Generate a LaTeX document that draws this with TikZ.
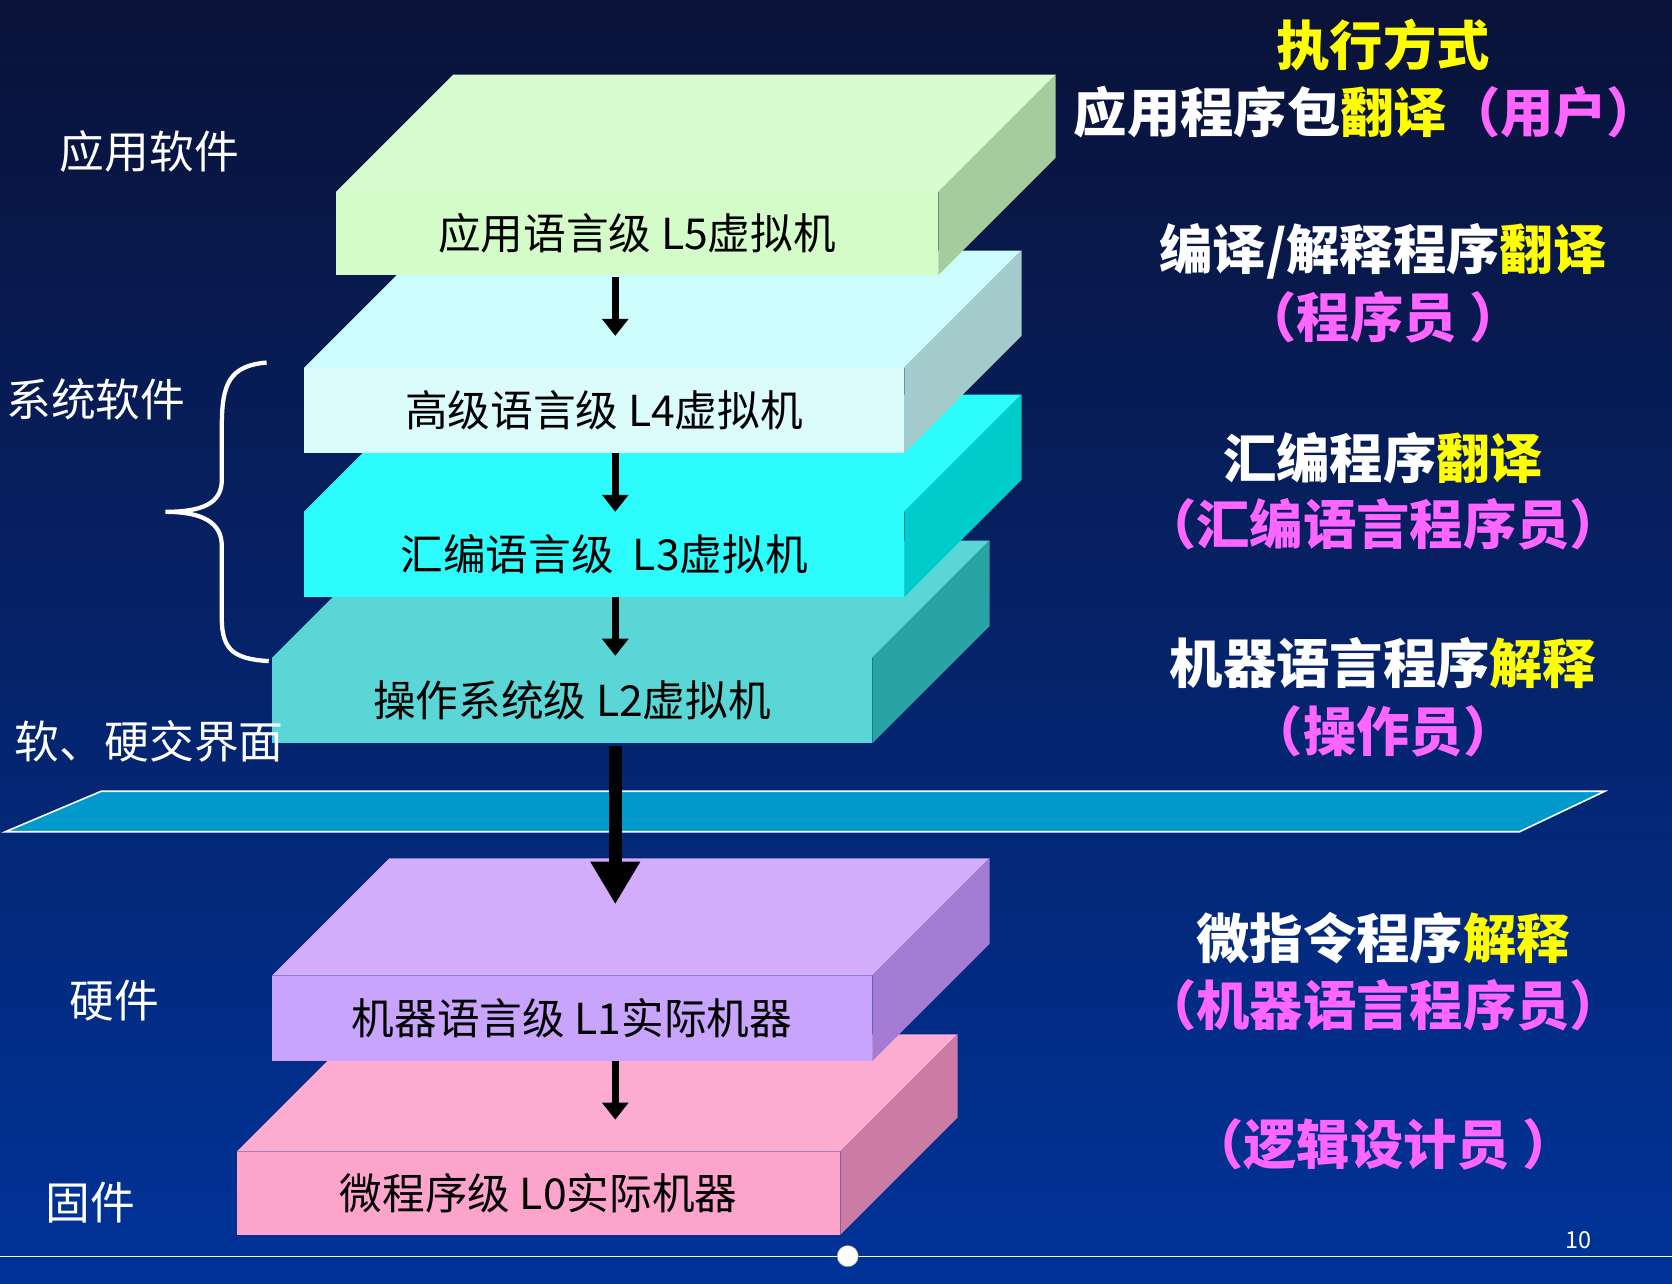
\documentclass[tikz,border=0pt]{standalone}
\usepackage{fontspec}
\setmainfont{Noto Sans CJK SC}
\usetikzlibrary{arrows.meta}
\definecolor{mag}{HTML}{FF66FF}
\definecolor{yel}{HTML}{FFFF00}
\definecolor{bgtop}{HTML}{0A1238}
\definecolor{bgbot}{HTML}{003399}
\definecolor{plane}{HTML}{0099CC}
\definecolor{l0f}{HTML}{FCA4CC}\definecolor{l0t}{HTML}{FCACD0}\definecolor{l0s}{HTML}{CC7CA4}
\definecolor{l1f}{HTML}{C8A4FC}\definecolor{l1t}{HTML}{D4ACFC}\definecolor{l1s}{HTML}{A47CD4}
\definecolor{l2f}{HTML}{5AD6D6}\definecolor{l2t}{HTML}{5AD6D6}\definecolor{l2s}{HTML}{28A4A4}
\definecolor{l3f}{HTML}{2CFCFC}\definecolor{l3t}{HTML}{2CFCFC}\definecolor{l3s}{HTML}{00CCCC}
\definecolor{l4f}{HTML}{DCFCFC}\definecolor{l4t}{HTML}{CCFCFC}\definecolor{l4s}{HTML}{A4CCCC}
\definecolor{l5f}{HTML}{D4FCC8}\definecolor{l5t}{HTML}{D8FCD0}\definecolor{l5s}{HTML}{A4CC9C}
\newcommand\myslab[9]{%
 \fill[#6] (#1,#2) -- ({#1+110},{#2-110}) -- ({#3+110},{#2-110}) -- (#3,#2) -- cycle;
 \fill[#7] (#3,#2) -- ({#3+110},{#2-110}) -- ({#3+110},{#4-110}) -- (#3,#4) -- cycle;
 \fill[#5] (#1,#2) rectangle (#3,#4);
 \node[slabtxt] (#8) at ({(#1+#3)/2},{(#2+#4)/2}) {#9};
}
\tikzset{
 slabtxt/.style={font=\fontsize{40}{46}\selectfont, text=black},
 lbl/.style={font=\fontsize{42}{48}\selectfont, text=white},
 rt/.style={font=\bfseries\fontsize{50}{58}\selectfont, text=white},
 arr/.style={line width=7pt, -{Triangle[length=16pt,width=24pt]}, black}
}
\begin{document}
\begin{tikzpicture}[x=1pt,y=-1pt]
\useasboundingbox (0,0) rectangle (1568,1204);
\shade[top color=bgtop, bottom color=bgbot] (0,0) rectangle (1568,1204);
\myslab{222}{1080}{788}{1158}{l0f}{l0t}{l0s}{l0}{微程序级 L0实际机器}
\myslab{255}{915}{818}{995}{l1f}{l1t}{l1s}{l1}{机器语言级 L1实际机器}
\draw[white, fill=plane, line width=1.5pt] (5,780) -- (95,742) -- (1505,742) -- (1425,780) -- cycle;
\myslab{255}{617}{818}{697}{l2f}{l2t}{l2s}{l2}{操作系统级 L2虚拟机}
\myslab{285}{480}{848}{560}{l3f}{l3t}{l3s}{l3}{汇编语言级 \ L3虚拟机}
\myslab{285}{345}{848}{425}{l4f}{l4t}{l4s}{l4}{高级语言级 L4虚拟机}
\myslab{315}{180}{880}{258}{l5f}{l5t}{l5s}{l5}{应用语言级 L5虚拟机}
\coordinate (a1) at (577,260); \coordinate (b1) at (577,315);
\coordinate (a2) at (577,425); \coordinate (b2) at (577,480);
\coordinate (a3) at (577,560); \coordinate (b3) at (577,615);
\coordinate (a4) at (577,700); \coordinate (b4) at (577,848);
\coordinate (a5) at (577,995); \coordinate (b5) at (577,1050);
\draw[arr] (a1) -- (b1); \draw[arr] (a2) -- (b2); \draw[arr] (a3) -- (b3);
\draw[line width=12pt, -{Triangle[length=40pt,width=44pt]}] (a4) -- (b4);
\draw[arr] (a5) -- (b5);
\node[lbl] (s1) at (140,142) {应用软件};
\node[lbl] (s2) at (90,375) {系统软件};
\node[lbl] (s3) at (140,695) {软、硬交界面};
\node[lbl] (s4) at (107,938) {硬件};
\node[lbl] (s5) at (85,1128) {固件};
\draw[white, line width=4pt] (250,340) .. controls (215,343) and (208,360) .. (208,400) -- (208,450) .. controls (208,472) and (190,480) .. (155,480) .. controls (190,480) and (208,490) .. (208,512) -- (208,580) .. controls (208,610) and (220,618) .. (252,620);
\node[rt, text=yel] (r0) at (1297,42) {执行方式};
\node[rt] (r1) at (1282,105) {应用程序包\textcolor{yel}{翻译}\textcolor{mag}{（用户）}};
\node[rt] (r2) at (1297,236) {编译/解释程序\textcolor{yel}{翻译}};
\node[rt, text=mag] (r3) at (1297,298) {（程序员 ）};
\node[rt] (r4) at (1297,430) {汇编程序\textcolor{yel}{翻译}};
\node[rt, text=mag] (r5) at (1297,492) {（汇编语言程序员）};
\node[rt] (r6) at (1297,622) {机器语言程序\textcolor{yel}{解释}};
\node[rt, text=mag] (r7) at (1297,686) {（操作员）};
\node[rt] (r8) at (1297,880) {微指令程序\textcolor{yel}{解释}};
\node[rt, text=mag] (r9) at (1297,943) {（机器语言程序员）};
\node[rt, text=mag] (r10) at (1297,1073) {（逻辑设计员 ）};
\node[text=white, font=\fontsize{22}{26}\selectfont] (pg) at (1480,1163) {10};
\draw[white, line width=1pt] (0,1178) -- (1568,1178);
\node[circle, fill=white, draw=gray, minimum size=20pt, inner sep=0pt] (dot) at (795,1178) {};
\end{tikzpicture}
\end{document}
